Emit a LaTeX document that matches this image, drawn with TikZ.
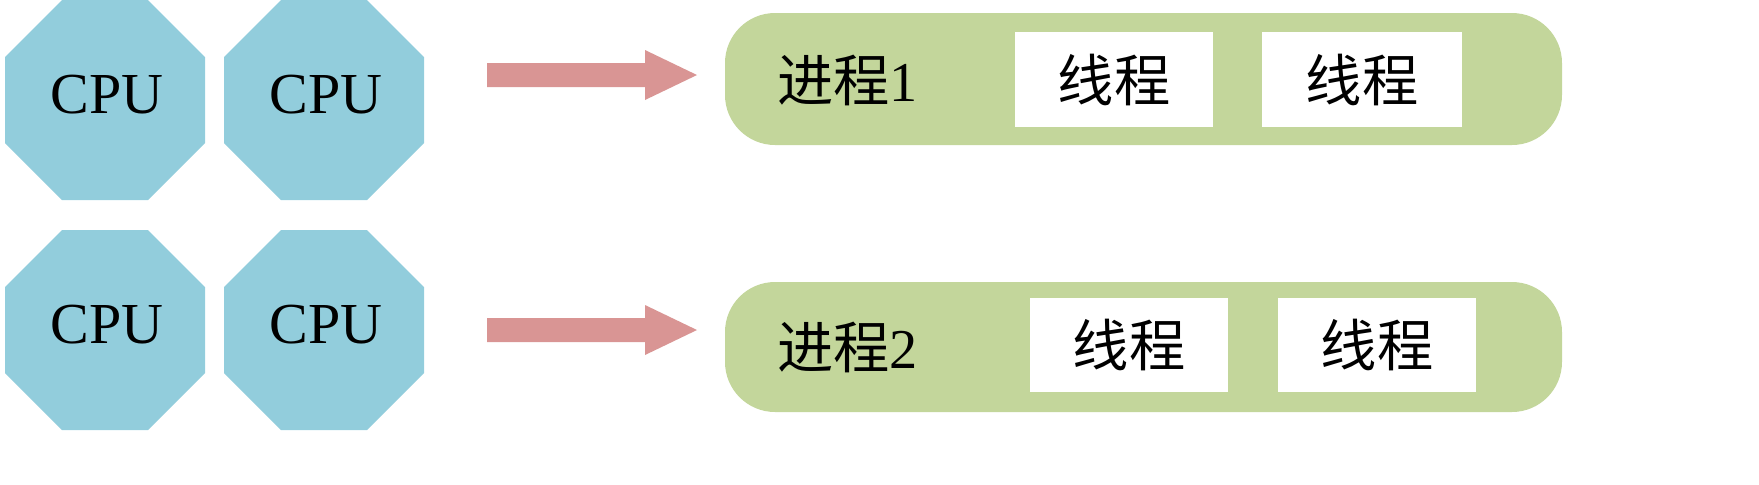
\documentclass[tikz,border=0pt]{standalone}
\usepackage{fontspec}
\setmainfont{Liberation Serif}
\newfontfamily\cjk{Noto Sans CJK SC}
\definecolor{oct}{HTML}{92CDDC}
\definecolor{arr}{HTML}{D99594}
\definecolor{grn}{HTML}{C3D69B}
\begin{document}
\begin{tikzpicture}[x=0.01cm,y=-0.01cm,
  octs/.style={fill=oct},
  cpulbl/.style={font=\fontsize{16.5}{20}\selectfont},
  arrs/.style={fill=arr},
  procbox/.style={fill=grn,rounded corners=0.5cm},
  thrbox/.style={fill=white,font=\cjk\fontsize{16}{18}\selectfont},
  plbl/.style={anchor=west,font=\cjk\fontsize{16}{18}\selectfont}]
\useasboundingbox (0,0) rectangle (1759,484);
\foreach \x/\y [count=\i] in {5/0,224/0,5/230,224/230}{
  \fill[octs] (\x+57,\y) -- (\x+143,\y) -- (\x+200,\y+57) -- (\x+200,\y+143) -- (\x+143,\y+200) -- (\x+57,\y+200) -- (\x,\y+143) -- (\x,\y+57) -- cycle;
  \node[cpulbl] (cpu\i) at (\x+102,\y+95) {CPU};
}
\foreach \y [count=\i] in {75,330}{
  \fill[arrs] (487,\y-12) -- (645,\y-12) -- (645,\y-25) -- (697,\y) -- (645,\y+25) -- (645,\y+12) -- (487,\y+12) -- cycle;
}
\fill[procbox] (725,13) rectangle (1562,145);
\fill[procbox] (725,282) rectangle (1562,412);
\node[plbl] (p1) at (765,80) {进程\fontspec{Liberation Serif}1};
\node[plbl] (p2) at (765,347) {进程\fontspec{Liberation Serif}2};
\node[thrbox,minimum width=1.98cm,minimum height=0.95cm] (t11) at (1114,79.5) {线程};
\node[thrbox,minimum width=2cm,minimum height=0.95cm] (t12) at (1362,79.5) {线程};
\node[thrbox,minimum width=1.98cm,minimum height=0.94cm] (t21) at (1129,345) {线程};
\node[thrbox,minimum width=1.98cm,minimum height=0.94cm] (t22) at (1377,345) {线程};
\end{tikzpicture}
\end{document}
